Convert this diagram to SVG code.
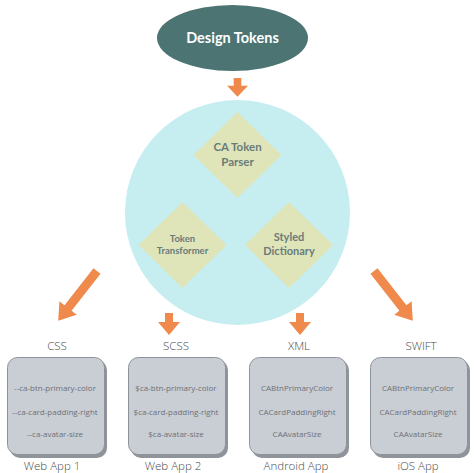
<svg xmlns="http://www.w3.org/2000/svg" width="474" height="473" viewBox="0 0 474 473">
<style>
.arrow{fill:#ef8a4c}
.dia{fill:#dfe5b9}
.dt{font-family:Lato,"Open Sans",sans-serif;font-weight:bold;fill:#6a7b7a;text-anchor:middle}
.lbl{font-family:"Open Sans","Liberation Sans",sans-serif;font-size:11.5px;font-weight:300;fill:#4a4a4a;text-anchor:middle}
.box{fill:#c9cdd4;stroke:#8d929a;stroke-width:1}
.shadow{fill:#8f949b}
.bt{font-family:"Open Sans","Liberation Sans",sans-serif;font-size:8px;fill:#6e7176;text-anchor:middle}
</style>
<defs>
<polygon id="bigArrow" points="-4.5,0 4.5,0 4.5,47 11,47 0,63 -11,47 -4.5,47"/>
<polygon id="smallArrow" points="-4,0 4,0 4,9 11,9 0,22 -11,9 -4,9"/>
</defs>
<rect width="474" height="473" fill="#ffffff"/>
<g id="design-tokens">
<ellipse cx="232.5" cy="38" rx="75.5" ry="33" fill="#4b7472"/>
<text x="232.5" y="43" font-family="Lato,'Open Sans',sans-serif" font-weight="bold" font-size="14.5" fill="#ffffff" text-anchor="middle">Design Tokens</text>
</g>
<g id="processor">
<circle cx="237.5" cy="212.5" r="112.5" fill="#c6eef0"/>
</g>
<g id="ca-token-parser">
<polygon class="dia" points="237.5,112 281.5,155 237.5,198 193.5,155"/>
<text class="dt" x="237.5" y="151" font-size="11.5">CA Token</text>
<text class="dt" x="237.5" y="165.5" font-size="11.5">Parser</text>
</g>
<g id="token-transformer">
<polygon class="dia" points="182.5,202 226.5,245 182.5,288 138.5,245"/>
<text class="dt" x="182.5" y="242" font-size="9.5">Token</text>
<text class="dt" x="182.5" y="254" font-size="9.5">Transformer</text>
</g>
<g id="styled-dictionary">
<polygon class="dia" points="289,202 333,245 289,288 245,245"/>
<text class="dt" x="289" y="241" font-size="11">Styled</text>
<text class="dt" x="289" y="255" font-size="11">Dictionary</text>
</g>
<g id="connectors">
<use href="#smallArrow" class="arrow" transform="translate(237.5,78) scale(0.95,0.85)"/>
<use href="#bigArrow" class="arrow" transform="translate(97,271) rotate(38)"/>
<use href="#bigArrow" class="arrow" transform="translate(374,271) rotate(-38)"/>
<use href="#smallArrow" class="arrow" transform="translate(169,313)"/>
<use href="#smallArrow" class="arrow" transform="translate(300,313)"/>
</g>
<g id="web-app-1">
<text class="lbl" x="57" y="350">CSS</text>
<rect class="shadow" x="10" y="360" width="97" height="98" rx="10"/>
<rect class="box" x="7.5" y="357.5" width="97" height="97" rx="10"/>
<text class="bt" x="55" y="391">--ca-btn-primary-color</text>
<text class="bt" x="55" y="415">--ca-card-padding-right</text>
<text class="bt" x="55" y="437">--ca-avatar-size</text>
<text class="lbl" x="52" y="470">Web App 1</text>
</g>
<g id="web-app-2">
<text class="lbl" x="176" y="350">SCSS</text>
<rect class="shadow" x="131" y="360" width="97" height="98" rx="10"/>
<rect class="box" x="128.5" y="357.5" width="97" height="97" rx="10"/>
<text class="bt" x="176" y="391">$ca-btn-primary-color</text>
<text class="bt" x="176" y="415">$ca-card-padding-right</text>
<text class="bt" x="176" y="437">$ca-avatar-size</text>
<text class="lbl" x="173" y="470">Web App 2</text>
</g>
<g id="android-app">
<text class="lbl" x="299" y="350">XML</text>
<rect class="shadow" x="252" y="360" width="97" height="98" rx="10"/>
<rect class="box" x="249.5" y="357.5" width="97" height="97" rx="10"/>
<text class="bt" x="297" y="391">CABtnPrimaryColor</text>
<text class="bt" x="297" y="415">CACardPaddingRight</text>
<text class="bt" x="297" y="437">CAAvatarSize</text>
<text class="lbl" x="296" y="470">Android App</text>
</g>
<g id="ios-app">
<text class="lbl" x="421" y="350">SWIFT</text>
<rect class="shadow" x="373" y="360" width="97" height="98" rx="10"/>
<rect class="box" x="370.5" y="357.5" width="97" height="97" rx="10"/>
<text class="bt" x="418" y="391">CABtnPrimaryColor</text>
<text class="bt" x="418" y="415">CACardPaddingRight</text>
<text class="bt" x="418" y="437">CAAvatarSize</text>
<text class="lbl" x="418" y="470">iOS App</text>
</g>
</svg>
